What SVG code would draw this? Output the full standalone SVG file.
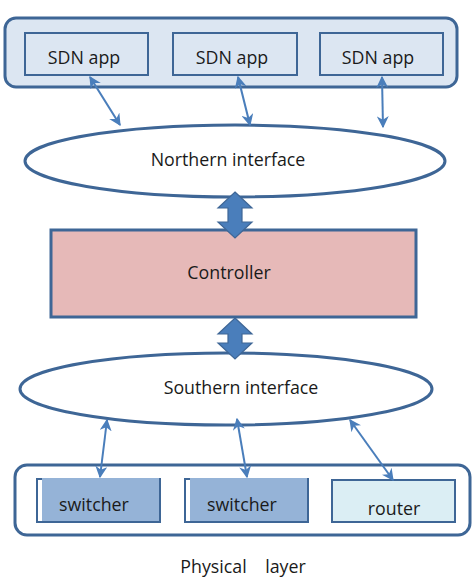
<svg xmlns="http://www.w3.org/2000/svg" width="474" height="579" viewBox="0 0 474 579">
<defs>
<style>
text{font-family:"Open Sans","Liberation Sans",sans-serif;fill:#1a1a1a;text-anchor:middle}
.lbl{font-size:17.8px}
.app{fill:#dce6f2;stroke:#3e6696;stroke-width:2}
.line{stroke:#4a7ebb;stroke-width:2;fill:none;marker-start:url(#ah);marker-end:url(#ah)}
.block{fill:#4a7ebb;stroke:#3e6696;stroke-width:1.2}
</style>
<marker id="ah" viewBox="0 0 10 10" refX="9" refY="5" markerWidth="6" markerHeight="6" orient="auto-start-reverse" markerUnits="strokeWidth">
<path d="M0,0 L10,5 L0,10 L3,5 Z" fill="#4a7ebb"/>
</marker>
</defs>
<g id="app-layer">
<rect x="5" y="18" width="452" height="69" rx="11" fill="#dce6f2" stroke="#3e6696" stroke-width="3"/>
</g>
<g id="app1"><rect class="app" x="25" y="33" width="123" height="42"/><text class="lbl" x="84" y="64">SDN app</text></g>
<g id="app2"><rect class="app" x="173" y="33" width="124" height="42"/><text class="lbl" x="232" y="64">SDN app</text></g>
<g id="app3"><rect class="app" x="320" y="33" width="123" height="42"/><text class="lbl" x="378" y="64">SDN app</text></g>
<g id="northern"><ellipse cx="235" cy="161" rx="210" ry="36" fill="#fff" stroke="#3e6696" stroke-width="3"/><text class="lbl" x="228" y="166">Northern interface</text></g>
<g id="controller"><rect x="51" y="230" width="365" height="87" fill="#e6b9b8" stroke="#3e6696" stroke-width="3"/><text class="lbl" x="229" y="279">Controller</text></g>
<g id="southern"><ellipse cx="226" cy="389" rx="206" ry="36" fill="#fff" stroke="#3e6696" stroke-width="3"/><text class="lbl" x="241" y="394">Southern interface</text></g>
<g id="physical-layer"><rect x="15" y="465" width="455" height="70" rx="12" fill="#fff" stroke="#3e6696" stroke-width="3"/><text class="lbl" x="243" y="573" style="white-space:pre">Physical    layer</text></g>
<g id="switcher1"><rect x="37" y="479" width="123" height="43" fill="#fff" stroke="#3e6696" stroke-width="2"/><rect x="42" y="478" width="117" height="43" fill="#95b3d7"/><text class="lbl" x="94" y="511">switcher</text></g>
<g id="switcher2"><rect x="185" y="479" width="123" height="43" fill="#fff" stroke="#3e6696" stroke-width="2"/><rect x="190" y="478" width="117" height="43" fill="#95b3d7"/><text class="lbl" x="242" y="511">switcher</text></g>
<g id="router"><rect x="332" y="480" width="123" height="42" fill="#dbeef4" stroke="#3e6696" stroke-width="2"/><text class="lbl" x="394" y="515">router</text></g>
<g id="connectors">
<line class="line" x1="90" y1="77" x2="120" y2="125"/>
<line class="line" x1="238" y1="77" x2="250" y2="125"/>
<line class="line" x1="382" y1="77" x2="383" y2="127"/>
<line class="line" x1="107" y1="420" x2="100" y2="477"/>
<line class="line" x1="237" y1="419" x2="247" y2="477"/>
<line class="line" x1="350" y1="420" x2="393" y2="480"/>
<path class="block" d="M235,192 L252,208 L242,208 L242,222 L252,222 L235,238 L218,222 L228,222 L228,208 L218,208 Z"/>
<path class="block" d="M235,318 L252,334 L242,334 L242,343 L252,343 L235,359 L218,343 L228,343 L228,334 L218,334 Z"/>
</g>
</svg>
